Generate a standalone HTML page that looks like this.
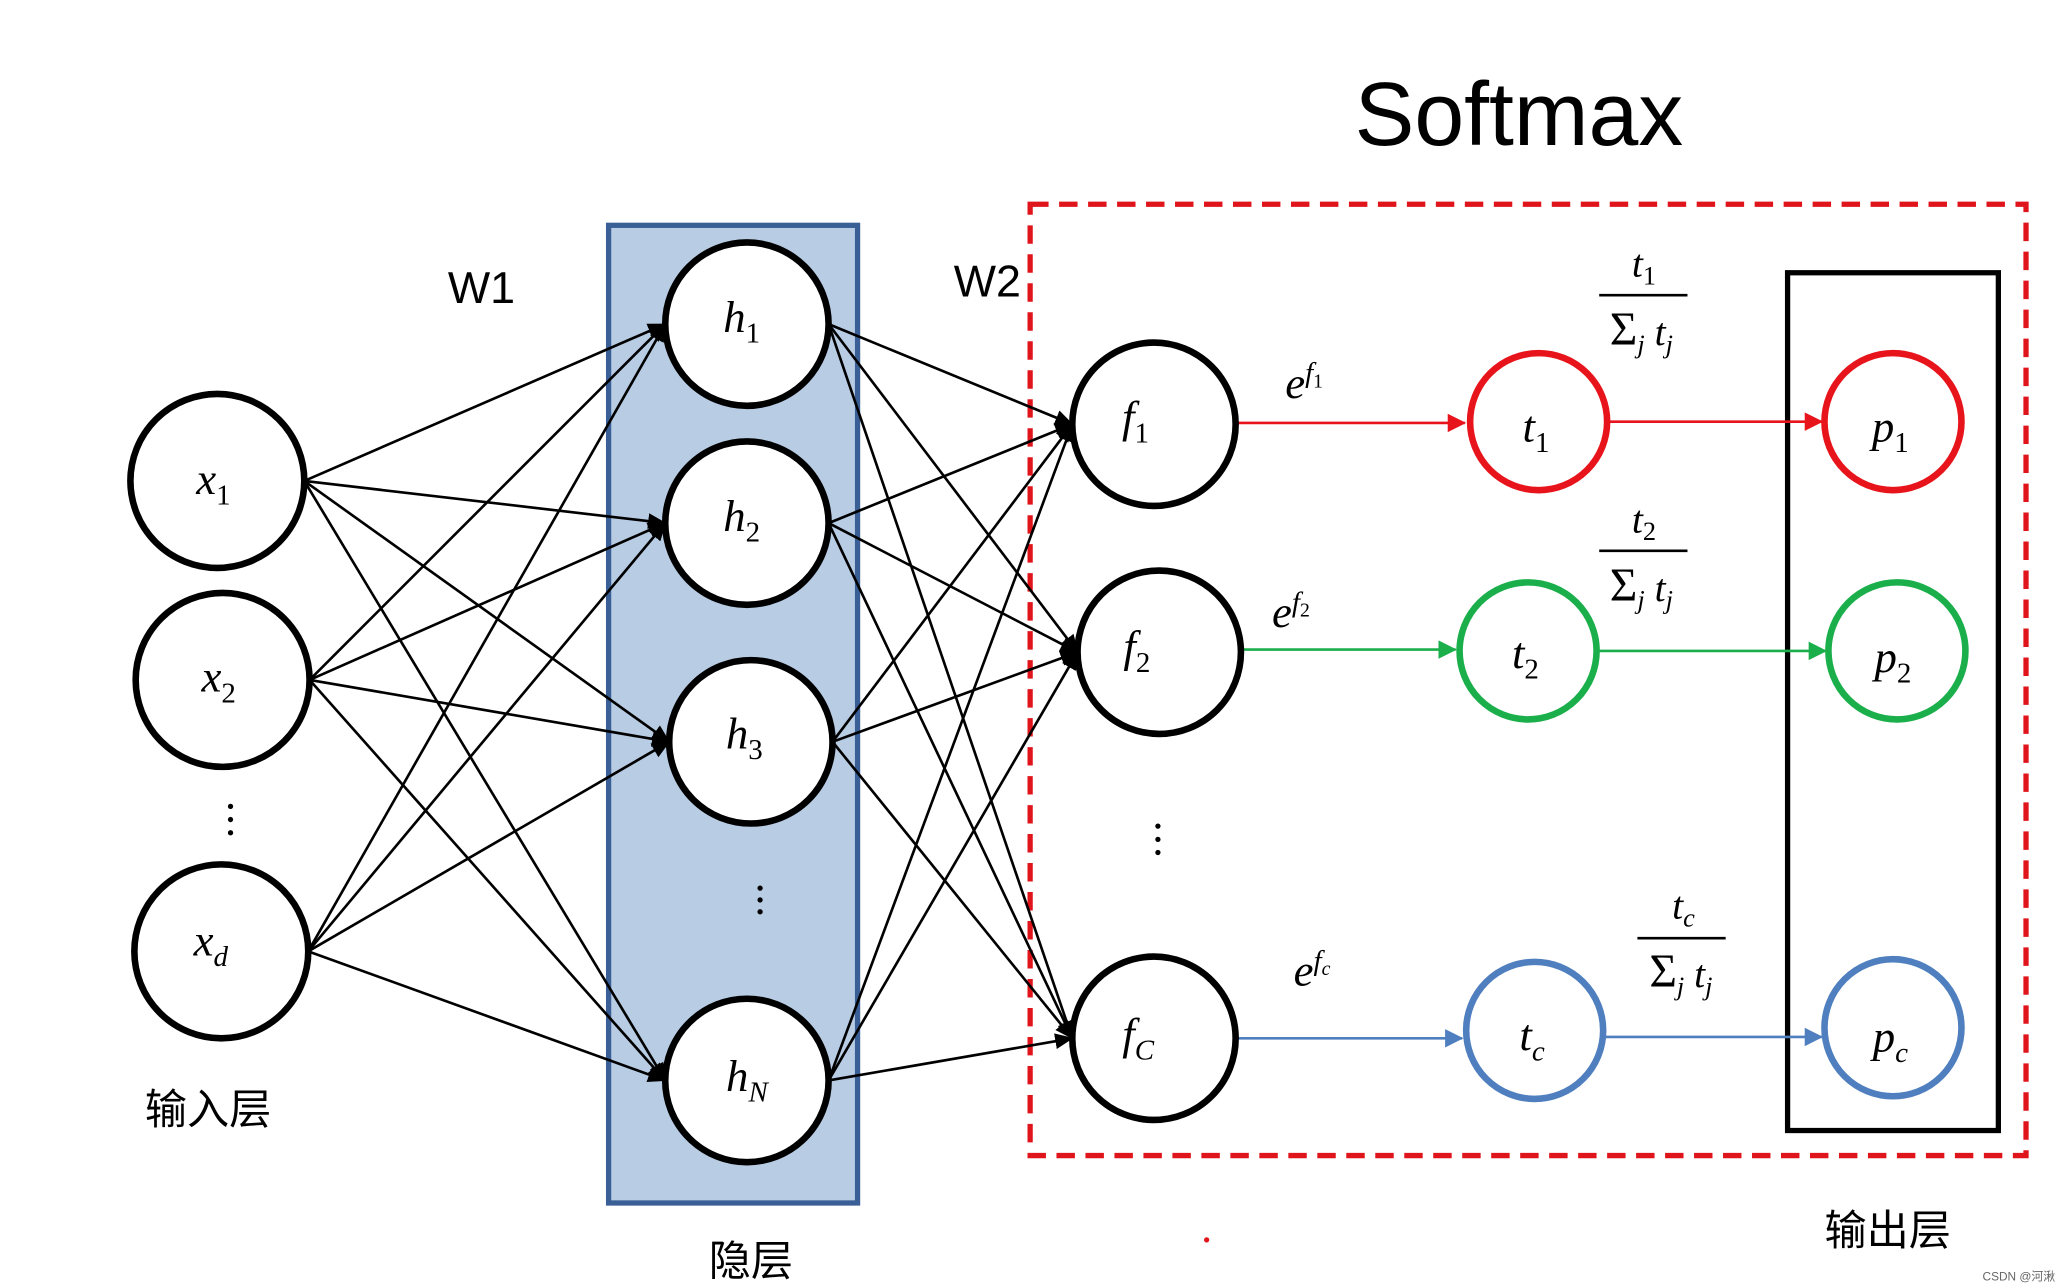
<!DOCTYPE html>
<html><head><meta charset="utf-8"><style>
html,body{margin:0;padding:0;background:#fff;width:2055px;height:1286px;overflow:hidden}
svg{display:block}
.m{font-family:"Liberation Serif",serif;font-style:italic}
.m tspan{font-style:normal}
.m tspan.i{font-style:italic}
.s{font-family:"Liberation Sans","Noto Sans CJK SC",sans-serif}
</style></head><body>
<svg width="2055" height="1286" viewBox="0 0 1560 976" preserveAspectRatio="none" xmlns="http://www.w3.org/2000/svg">
<defs>
<marker id="ak" markerWidth="14" markerHeight="14" refX="13" refY="7" orient="auto" markerUnits="userSpaceOnUse"><path d="M0,1 L14,7 L0,13 z" fill="#000"/></marker>
<marker id="ar" markerWidth="14" markerHeight="14" refX="13" refY="7" orient="auto" markerUnits="userSpaceOnUse"><path d="M0,0 L14,7 L0,14 z" fill="#e8141b"/></marker>
<marker id="ag" markerWidth="14" markerHeight="14" refX="13" refY="7" orient="auto" markerUnits="userSpaceOnUse"><path d="M0,0 L14,7 L0,14 z" fill="#1aaf4b"/></marker>
<marker id="ab" markerWidth="14" markerHeight="14" refX="13" refY="7" orient="auto" markerUnits="userSpaceOnUse"><path d="M0,0 L14,7 L0,14 z" fill="#4f7fbf"/></marker>
</defs>
<rect x="0" y="0" width="1560" height="976" fill="#fff"/>
<rect x="462" y="171" width="189" height="742" fill="#b8cce4" stroke="#3a5f96" stroke-width="4"/>
<rect x="782" y="155" width="756" height="722" fill="none" stroke="#e0141b" stroke-width="4" stroke-dasharray="14,8"/>
<rect x="1357" y="207" width="160" height="651" fill="none" stroke="#000" stroke-width="4"/>
<g stroke="#000" stroke-width="2" marker-end="url(#ak)">
<line x1="231" y1="365" x2="505" y2="246"/><line x1="231" y1="365" x2="505" y2="397"/><line x1="231" y1="365" x2="508" y2="563"/><line x1="231" y1="365" x2="505" y2="820"/>
<line x1="235" y1="516" x2="505" y2="246"/><line x1="235" y1="516" x2="505" y2="397"/><line x1="235" y1="516" x2="508" y2="563"/><line x1="235" y1="516" x2="505" y2="820"/>
<line x1="234" y1="722" x2="505" y2="246"/><line x1="234" y1="722" x2="505" y2="397"/><line x1="234" y1="722" x2="508" y2="563"/><line x1="234" y1="722" x2="505" y2="820"/>
<line x1="629" y1="246" x2="814" y2="322"/><line x1="629" y1="246" x2="818" y2="495"/><line x1="629" y1="246" x2="814" y2="788"/>
<line x1="629" y1="397" x2="814" y2="322"/><line x1="629" y1="397" x2="818" y2="495"/><line x1="629" y1="397" x2="814" y2="788"/>
<line x1="632" y1="563" x2="814" y2="322"/><line x1="632" y1="563" x2="818" y2="495"/><line x1="632" y1="563" x2="814" y2="788"/>
<line x1="629" y1="820" x2="814" y2="322"/><line x1="629" y1="820" x2="818" y2="495"/><line x1="629" y1="820" x2="814" y2="788"/>
</g>
<g stroke-width="2">
<line x1="940" y1="321" x2="1112" y2="321" stroke="#e8141b" marker-end="url(#ar)"/>
<line x1="1222" y1="320" x2="1383" y2="320" stroke="#e8141b" marker-end="url(#ar)"/>
<line x1="936" y1="493" x2="1105" y2="493" stroke="#1aaf4b" marker-end="url(#ag)"/>
<line x1="1208" y1="494" x2="1386" y2="494" stroke="#1aaf4b" marker-end="url(#ag)"/>
<line x1="936" y1="788" x2="1110" y2="788" stroke="#4f7fbf" marker-end="url(#ab)"/>
<line x1="1218" y1="787" x2="1383" y2="787" stroke="#4f7fbf" marker-end="url(#ab)"/>
</g>
<g fill="#fff" stroke="#000" stroke-width="5">
<circle cx="165" cy="365" r="66"/><circle cx="169" cy="516" r="66"/><circle cx="168" cy="722" r="66"/>
<circle cx="567" cy="246" r="62"/><circle cx="567" cy="397" r="62"/><circle cx="570" cy="563" r="62"/><circle cx="567" cy="820" r="62"/>
<circle cx="876" cy="322" r="62"/><circle cx="880" cy="495" r="62"/><circle cx="876" cy="788" r="62"/>
</g>
<g fill="#fff" stroke-width="5">
<circle cx="1168" cy="320" r="52" stroke="#e8141b"/><circle cx="1437" cy="320" r="52" stroke="#e8141b"/>
<circle cx="1160" cy="494" r="52" stroke="#1aaf4b"/><circle cx="1440" cy="494" r="52" stroke="#1aaf4b"/>
<circle cx="1165" cy="782" r="52" stroke="#4f7fbf"/><circle cx="1437" cy="780" r="52" stroke="#4f7fbf"/>
</g>
<g class="m" font-size="34" fill="#000" text-anchor="middle">
<text x="162" y="375">x<tspan font-size="22" dy="8">1</tspan></text>
<text x="166" y="525">x<tspan font-size="22" dy="8">2</tspan></text>
<text x="160" y="725">x<tspan class="i" font-size="22" dy="8">d</tspan></text>
<text x="563" y="252">h<tspan font-size="22" dy="8">1</tspan></text>
<text x="563" y="403">h<tspan font-size="22" dy="8">2</tspan></text>
<text x="565" y="568">h<tspan font-size="22" dy="8">3</tspan></text>
<text x="567" y="828">h<tspan class="i" font-size="22" dy="8">N</tspan></text>
<text x="862" y="328">f<tspan font-size="22" dy="8">1</tspan></text>
<text x="863" y="502">f<tspan font-size="22" dy="8">2</tspan></text>
<text x="864" y="796">f<tspan class="i" font-size="22" dy="8">C</tspan></text>
<text x="1166" y="335">t<tspan font-size="22" dy="8">1</tspan></text>
<text x="1158" y="507">t<tspan font-size="22" dy="8">2</tspan></text>
<text x="1163" y="797">t<tspan class="i" font-size="22" dy="8">c</tspan></text>
<text x="1435" y="335">p<tspan font-size="22" dy="8">1</tspan></text>
<text x="1437" y="510">p<tspan font-size="22" dy="8">2</tspan></text>
<text x="1435" y="798">p<tspan class="i" font-size="22" dy="8">c</tspan></text>
<text x="990" y="302">e<tspan class="i" font-size="22" dy="-12">f<tspan font-size="15" dy="4">1</tspan></tspan></text>
<text x="980" y="476">e<tspan class="i" font-size="22" dy="-12">f<tspan font-size="15" dy="4">2</tspan></tspan></text>
<text x="996" y="748">e<tspan class="i" font-size="22" dy="-12">f<tspan class="i" font-size="15" dy="4">c</tspan></tspan></text>
<g font-size="30">
<text x="1248" y="210">t<tspan font-size="20" dy="6">1</tspan></text>
<text x="1246" y="262"><tspan font-size="36">Σ</tspan><tspan class="i" font-size="20" dy="6">j</tspan><tspan class="i" dy="-6"> t</tspan><tspan class="i" font-size="20" dy="6">j</tspan></text>
<text x="1248" y="404">t<tspan font-size="20" dy="6">2</tspan></text>
<text x="1246" y="456"><tspan font-size="36">Σ</tspan><tspan class="i" font-size="20" dy="6">j</tspan><tspan class="i" dy="-6"> t</tspan><tspan class="i" font-size="20" dy="6">j</tspan></text>
<text x="1278" y="697">t<tspan class="i" font-size="20" dy="6">c</tspan></text>
<text x="1276" y="749"><tspan font-size="36">Σ</tspan><tspan class="i" font-size="20" dy="6">j</tspan><tspan class="i" dy="-6"> t</tspan><tspan class="i" font-size="20" dy="6">j</tspan></text>
</g>
</g>
<g stroke="#000" stroke-width="2">
<line x1="1214" y1="224" x2="1281" y2="224"/><line x1="1214" y1="418" x2="1281" y2="418"/><line x1="1243" y1="712" x2="1310" y2="712"/>
</g>
<g fill="#000">
<circle cx="175" cy="612" r="2"/><circle cx="175" cy="622" r="2"/><circle cx="175" cy="632" r="2"/>
<circle cx="577" cy="674" r="2"/><circle cx="577" cy="683" r="2"/><circle cx="577" cy="692" r="2"/>
<circle cx="879" cy="627" r="2"/><circle cx="879" cy="637" r="2"/><circle cx="879" cy="647" r="2"/>
<circle cx="916" cy="941" r="2" fill="#e0141b"/>
</g>
<g class="s" fill="#000">
<text x="1153" y="110" font-size="68" text-anchor="middle">Softmax</text>
<text x="340" y="230" font-size="34">W1</text>
<text x="724" y="225" font-size="34">W2</text>
<text x="110" y="853" font-size="32">输入层</text>
<text x="538" y="968" font-size="32">隐层</text>
<text x="1385" y="945" font-size="32">输出层</text>
<text x="1505" y="972" font-size="9" fill="#666">CSDN @河湫</text>
</g>
</svg>
</body></html>
